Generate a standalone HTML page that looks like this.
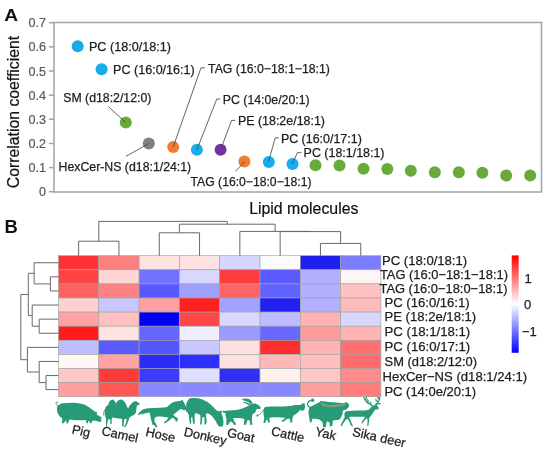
<!DOCTYPE html><html><head><meta charset="utf-8"><style>html,body{margin:0;padding:0;background:#fff;}svg{display:block;}text{font-family:"Liberation Sans",Arial,sans-serif;} .t{stroke:#1e1e1e;stroke-width:0.25px;}</style></head><body>
<svg width="550" height="452" viewBox="0 0 550 452">
<rect x="0" y="0" width="550" height="452" fill="#fff"/>
<text transform="translate(4.3,20.8) scale(1.13,1)" font-size="17" font-weight="bold" fill="#111">A</text>
<rect x="54" y="22.5" width="487.5" height="169.5" fill="none" stroke="#a3a3a3" stroke-width="1.5"/>
<line x1="49" y1="191.75" x2="54" y2="191.75" stroke="#a3a3a3" stroke-width="1.5"/>
<text x="45.9" y="196.25" font-size="12.6" fill="#5a5a5a" stroke="#5a5a5a" stroke-width="0.2" text-anchor="end">0</text>
<line x1="49" y1="167.60" x2="54" y2="167.60" stroke="#a3a3a3" stroke-width="1.5"/>
<text x="45.9" y="172.10" font-size="12.6" fill="#5a5a5a" stroke="#5a5a5a" stroke-width="0.2" text-anchor="end">0.1</text>
<line x1="49" y1="143.45" x2="54" y2="143.45" stroke="#a3a3a3" stroke-width="1.5"/>
<text x="45.9" y="147.95" font-size="12.6" fill="#5a5a5a" stroke="#5a5a5a" stroke-width="0.2" text-anchor="end">0.2</text>
<line x1="49" y1="119.30" x2="54" y2="119.30" stroke="#a3a3a3" stroke-width="1.5"/>
<text x="45.9" y="123.80" font-size="12.6" fill="#5a5a5a" stroke="#5a5a5a" stroke-width="0.2" text-anchor="end">0.3</text>
<line x1="49" y1="95.15" x2="54" y2="95.15" stroke="#a3a3a3" stroke-width="1.5"/>
<text x="45.9" y="99.65" font-size="12.6" fill="#5a5a5a" stroke="#5a5a5a" stroke-width="0.2" text-anchor="end">0.4</text>
<line x1="49" y1="71.00" x2="54" y2="71.00" stroke="#a3a3a3" stroke-width="1.5"/>
<text x="45.9" y="75.50" font-size="12.6" fill="#5a5a5a" stroke="#5a5a5a" stroke-width="0.2" text-anchor="end">0.5</text>
<line x1="49" y1="46.85" x2="54" y2="46.85" stroke="#a3a3a3" stroke-width="1.5"/>
<text x="45.9" y="51.35" font-size="12.6" fill="#5a5a5a" stroke="#5a5a5a" stroke-width="0.2" text-anchor="end">0.6</text>
<line x1="49" y1="22.70" x2="54" y2="22.70" stroke="#a3a3a3" stroke-width="1.5"/>
<text x="45.9" y="27.20" font-size="12.6" fill="#5a5a5a" stroke="#5a5a5a" stroke-width="0.2" text-anchor="end">0.7</text>
<text transform="translate(19.3,112) rotate(-90)" font-size="15.8" fill="#111" stroke="#111" stroke-width="0.2" text-anchor="middle">Correlation coefficient</text>
<text x="249.2" y="214.2" font-size="15.85" fill="#111" stroke="#111" stroke-width="0.2">Lipid molecules</text>
<circle cx="77.7" cy="46.3" r="6" fill="#17acec"/>
<circle cx="101.6" cy="69.2" r="6" fill="#17acec"/>
<circle cx="125.8" cy="122.6" r="6" fill="#6aaa3c"/>
<circle cx="148.8" cy="143.5" r="6" fill="#7f7f7f"/>
<circle cx="173.2" cy="146.9" r="6" fill="#ef7d2f"/>
<circle cx="196.9" cy="149.7" r="6" fill="#17acec"/>
<circle cx="220.6" cy="149.8" r="6" fill="#7431a3"/>
<circle cx="244.4" cy="161.6" r="6" fill="#ef7d2f"/>
<circle cx="268.8" cy="162" r="6" fill="#17acec"/>
<circle cx="292.5" cy="164" r="6" fill="#17acec"/>
<circle cx="315.5" cy="165.3" r="6" fill="#6aaa3c"/>
<circle cx="339.5" cy="165.5" r="6" fill="#6aaa3c"/>
<circle cx="363.5" cy="168.7" r="6" fill="#6aaa3c"/>
<circle cx="387.3" cy="168.9" r="6" fill="#6aaa3c"/>
<circle cx="410.8" cy="170.8" r="6" fill="#6aaa3c"/>
<circle cx="434.8" cy="172.2" r="6" fill="#6aaa3c"/>
<circle cx="458.8" cy="172.2" r="6" fill="#6aaa3c"/>
<circle cx="482.4" cy="172.8" r="6" fill="#6aaa3c"/>
<circle cx="506.2" cy="175.5" r="6" fill="#6aaa3c"/>
<circle cx="530.2" cy="175.5" r="6" fill="#6aaa3c"/>
<path d="M108.4,106.6 L125.8,122.6" fill="none" stroke="#484848" stroke-width="0.85"/>
<path d="M125.8,156.4 L148.8,143.5" fill="none" stroke="#484848" stroke-width="0.85"/>
<path d="M173.2,146.9 L201.0,67.8 L205.0,67.8" fill="none" stroke="#484848" stroke-width="0.85"/>
<path d="M196.9,149.7 L216.8,99.0 L220.2,99.0" fill="none" stroke="#484848" stroke-width="0.85"/>
<path d="M220.6,149.8 L231.6,120.4 L235.2,120.4" fill="none" stroke="#484848" stroke-width="0.85"/>
<path d="M235.5,171.5 L244.4,161.6" fill="none" stroke="#484848" stroke-width="0.85"/>
<path d="M268.5,161.8 L275.2,137.8 L278.8,137.8" fill="none" stroke="#484848" stroke-width="0.85"/>
<path d="M292.2,164 L297.4,152.6 L301.4,152.6" fill="none" stroke="#484848" stroke-width="0.85"/>
<text x="88.95" y="50.9" font-size="12.6" fill="#1e1e1e" class="t">PC (18:0/18:1)</text>
<text x="113.1" y="73.7" font-size="12.55" fill="#1e1e1e" class="t">PC (16:0/16:1)</text>
<text x="63.2" y="101.9" font-size="12.3" fill="#1e1e1e" class="t">SM (d18:2/12:0)</text>
<text x="58.6" y="170.5" font-size="12.3" fill="#1e1e1e" class="t">HexCer-NS (d18:1/24:1)</text>
<text x="208.1" y="73" font-size="12.28" fill="#1e1e1e" class="t">TAG (16:0−18:1−18:1)</text>
<text x="222.8" y="103.9" font-size="12.3" fill="#1e1e1e" class="t">PC (14:0e/20:1)</text>
<text x="237.9" y="124.9" font-size="12.45" fill="#1e1e1e" class="t">PE (18:2e/18:1)</text>
<text x="190.6" y="186" font-size="12.18" fill="#1e1e1e" class="t">TAG (16:0−18:0−18:1)</text>
<text x="280.9" y="142.6" font-size="12.45" fill="#1e1e1e" class="t">PC (16:0/17:1)</text>
<text x="303.6" y="156.6" font-size="12.45" fill="#1e1e1e" class="t">PC (18:1/18:1)</text>
<text transform="translate(4.5,232.8) scale(1.05,1)" font-size="17.5" font-weight="bold" fill="#111">B</text>
<rect x="58.50" y="255.70" width="40.30" height="14.10" fill="#ff3333" stroke="#a0a0a0" stroke-width="0.6"/>
<rect x="98.80" y="255.70" width="40.30" height="14.10" fill="#ff8080" stroke="#a0a0a0" stroke-width="0.6"/>
<rect x="139.10" y="255.70" width="40.30" height="14.10" fill="#ffe2e2" stroke="#a0a0a0" stroke-width="0.6"/>
<rect x="179.40" y="255.70" width="40.30" height="14.10" fill="#ffe2e2" stroke="#a0a0a0" stroke-width="0.6"/>
<rect x="219.70" y="255.70" width="40.30" height="14.10" fill="#d6d6ff" stroke="#a0a0a0" stroke-width="0.6"/>
<rect x="260.00" y="255.70" width="40.30" height="14.10" fill="#fafaff" stroke="#a0a0a0" stroke-width="0.6"/>
<rect x="300.30" y="255.70" width="40.30" height="14.10" fill="#2020ee" stroke="#a0a0a0" stroke-width="0.6"/>
<rect x="340.60" y="255.70" width="40.30" height="14.10" fill="#7c7cff" stroke="#a0a0a0" stroke-width="0.6"/>
<rect x="58.50" y="269.80" width="40.30" height="14.10" fill="#ff4242" stroke="#a0a0a0" stroke-width="0.6"/>
<rect x="98.80" y="269.80" width="40.30" height="14.10" fill="#ffd6d6" stroke="#a0a0a0" stroke-width="0.6"/>
<rect x="139.10" y="269.80" width="40.30" height="14.10" fill="#7272ff" stroke="#a0a0a0" stroke-width="0.6"/>
<rect x="179.40" y="269.80" width="40.30" height="14.10" fill="#d8d8ff" stroke="#a0a0a0" stroke-width="0.6"/>
<rect x="219.70" y="269.80" width="40.30" height="14.10" fill="#ff3c3c" stroke="#a0a0a0" stroke-width="0.6"/>
<rect x="260.00" y="269.80" width="40.30" height="14.10" fill="#5a5aff" stroke="#a0a0a0" stroke-width="0.6"/>
<rect x="300.30" y="269.80" width="40.30" height="14.10" fill="#b0b0ff" stroke="#a0a0a0" stroke-width="0.6"/>
<rect x="340.60" y="269.80" width="40.30" height="14.10" fill="#fff5f4" stroke="#a0a0a0" stroke-width="0.6"/>
<rect x="58.50" y="283.90" width="40.30" height="14.10" fill="#ff6060" stroke="#a0a0a0" stroke-width="0.6"/>
<rect x="98.80" y="283.90" width="40.30" height="14.10" fill="#ff8282" stroke="#a0a0a0" stroke-width="0.6"/>
<rect x="139.10" y="283.90" width="40.30" height="14.10" fill="#5858ff" stroke="#a0a0a0" stroke-width="0.6"/>
<rect x="179.40" y="283.90" width="40.30" height="14.10" fill="#a0a0ff" stroke="#a0a0a0" stroke-width="0.6"/>
<rect x="219.70" y="283.90" width="40.30" height="14.10" fill="#ff6464" stroke="#a0a0a0" stroke-width="0.6"/>
<rect x="260.00" y="283.90" width="40.30" height="14.10" fill="#6262ff" stroke="#a0a0a0" stroke-width="0.6"/>
<rect x="300.30" y="283.90" width="40.30" height="14.10" fill="#b0b0ff" stroke="#a0a0a0" stroke-width="0.6"/>
<rect x="340.60" y="283.90" width="40.30" height="14.10" fill="#ffc2c2" stroke="#a0a0a0" stroke-width="0.6"/>
<rect x="58.50" y="298.00" width="40.30" height="14.10" fill="#ffd0d0" stroke="#a0a0a0" stroke-width="0.6"/>
<rect x="98.80" y="298.00" width="40.30" height="14.10" fill="#c8c8ff" stroke="#a0a0a0" stroke-width="0.6"/>
<rect x="139.10" y="298.00" width="40.30" height="14.10" fill="#ffa0a0" stroke="#a0a0a0" stroke-width="0.6"/>
<rect x="179.40" y="298.00" width="40.30" height="14.10" fill="#ff2020" stroke="#a0a0a0" stroke-width="0.6"/>
<rect x="219.70" y="298.00" width="40.30" height="14.10" fill="#a2a2ff" stroke="#a0a0a0" stroke-width="0.6"/>
<rect x="260.00" y="298.00" width="40.30" height="14.10" fill="#2020f0" stroke="#a0a0a0" stroke-width="0.6"/>
<rect x="300.30" y="298.00" width="40.30" height="14.10" fill="#b0b0ff" stroke="#a0a0a0" stroke-width="0.6"/>
<rect x="340.60" y="298.00" width="40.30" height="14.10" fill="#ffbaba" stroke="#a0a0a0" stroke-width="0.6"/>
<rect x="58.50" y="312.10" width="40.30" height="14.10" fill="#ffa2a2" stroke="#a0a0a0" stroke-width="0.6"/>
<rect x="98.80" y="312.10" width="40.30" height="14.10" fill="#ffc0c0" stroke="#a0a0a0" stroke-width="0.6"/>
<rect x="139.10" y="312.10" width="40.30" height="14.10" fill="#0000f8" stroke="#a0a0a0" stroke-width="0.6"/>
<rect x="179.40" y="312.10" width="40.30" height="14.10" fill="#ff4646" stroke="#a0a0a0" stroke-width="0.6"/>
<rect x="219.70" y="312.10" width="40.30" height="14.10" fill="#d8d8ff" stroke="#a0a0a0" stroke-width="0.6"/>
<rect x="260.00" y="312.10" width="40.30" height="14.10" fill="#bcbcff" stroke="#a0a0a0" stroke-width="0.6"/>
<rect x="300.30" y="312.10" width="40.30" height="14.10" fill="#ffb2b2" stroke="#a0a0a0" stroke-width="0.6"/>
<rect x="340.60" y="312.10" width="40.30" height="14.10" fill="#d8d8ff" stroke="#a0a0a0" stroke-width="0.6"/>
<rect x="58.50" y="326.20" width="40.30" height="14.10" fill="#ff1c1c" stroke="#a0a0a0" stroke-width="0.6"/>
<rect x="98.80" y="326.20" width="40.30" height="14.10" fill="#ffe2e2" stroke="#a0a0a0" stroke-width="0.6"/>
<rect x="139.10" y="326.20" width="40.30" height="14.10" fill="#6666ff" stroke="#a0a0a0" stroke-width="0.6"/>
<rect x="179.40" y="326.20" width="40.30" height="14.10" fill="#eeeeff" stroke="#a0a0a0" stroke-width="0.6"/>
<rect x="219.70" y="326.20" width="40.30" height="14.10" fill="#9a9aff" stroke="#a0a0a0" stroke-width="0.6"/>
<rect x="260.00" y="326.20" width="40.30" height="14.10" fill="#6868ff" stroke="#a0a0a0" stroke-width="0.6"/>
<rect x="300.30" y="326.20" width="40.30" height="14.10" fill="#ff9a9a" stroke="#a0a0a0" stroke-width="0.6"/>
<rect x="340.60" y="326.20" width="40.30" height="14.10" fill="#ffb4b4" stroke="#a0a0a0" stroke-width="0.6"/>
<rect x="58.50" y="340.30" width="40.30" height="14.10" fill="#bebeff" stroke="#a0a0a0" stroke-width="0.6"/>
<rect x="98.80" y="340.30" width="40.30" height="14.10" fill="#5a5aff" stroke="#a0a0a0" stroke-width="0.6"/>
<rect x="139.10" y="340.30" width="40.30" height="14.10" fill="#5656ff" stroke="#a0a0a0" stroke-width="0.6"/>
<rect x="179.40" y="340.30" width="40.30" height="14.10" fill="#c8c8ff" stroke="#a0a0a0" stroke-width="0.6"/>
<rect x="219.70" y="340.30" width="40.30" height="14.10" fill="#ffe0e0" stroke="#a0a0a0" stroke-width="0.6"/>
<rect x="260.00" y="340.30" width="40.30" height="14.10" fill="#ff2e2e" stroke="#a0a0a0" stroke-width="0.6"/>
<rect x="300.30" y="340.30" width="40.30" height="14.10" fill="#ffb2b2" stroke="#a0a0a0" stroke-width="0.6"/>
<rect x="340.60" y="340.30" width="40.30" height="14.10" fill="#ff7070" stroke="#a0a0a0" stroke-width="0.6"/>
<rect x="58.50" y="354.40" width="40.30" height="14.10" fill="#fff8f8" stroke="#a0a0a0" stroke-width="0.6"/>
<rect x="98.80" y="354.40" width="40.30" height="14.10" fill="#ffa2a2" stroke="#a0a0a0" stroke-width="0.6"/>
<rect x="139.10" y="354.40" width="40.30" height="14.10" fill="#2c2cfa" stroke="#a0a0a0" stroke-width="0.6"/>
<rect x="179.40" y="354.40" width="40.30" height="14.10" fill="#2e2eff" stroke="#a0a0a0" stroke-width="0.6"/>
<rect x="219.70" y="354.40" width="40.30" height="14.10" fill="#ffe0e0" stroke="#a0a0a0" stroke-width="0.6"/>
<rect x="260.00" y="354.40" width="40.30" height="14.10" fill="#ffb8b8" stroke="#a0a0a0" stroke-width="0.6"/>
<rect x="300.30" y="354.40" width="40.30" height="14.10" fill="#ffbebe" stroke="#a0a0a0" stroke-width="0.6"/>
<rect x="340.60" y="354.40" width="40.30" height="14.10" fill="#ff6a6a" stroke="#a0a0a0" stroke-width="0.6"/>
<rect x="58.50" y="368.50" width="40.30" height="14.10" fill="#ffc8c8" stroke="#a0a0a0" stroke-width="0.6"/>
<rect x="98.80" y="368.50" width="40.30" height="14.10" fill="#ff3a3a" stroke="#a0a0a0" stroke-width="0.6"/>
<rect x="139.10" y="368.50" width="40.30" height="14.10" fill="#3c3cff" stroke="#a0a0a0" stroke-width="0.6"/>
<rect x="179.40" y="368.50" width="40.30" height="14.10" fill="#dedeff" stroke="#a0a0a0" stroke-width="0.6"/>
<rect x="219.70" y="368.50" width="40.30" height="14.10" fill="#3030f4" stroke="#a0a0a0" stroke-width="0.6"/>
<rect x="260.00" y="368.50" width="40.30" height="14.10" fill="#fff0f0" stroke="#a0a0a0" stroke-width="0.6"/>
<rect x="300.30" y="368.50" width="40.30" height="14.10" fill="#ffc6c6" stroke="#a0a0a0" stroke-width="0.6"/>
<rect x="340.60" y="368.50" width="40.30" height="14.10" fill="#ff8a8a" stroke="#a0a0a0" stroke-width="0.6"/>
<rect x="58.50" y="382.60" width="40.30" height="14.10" fill="#ff9e9e" stroke="#a0a0a0" stroke-width="0.6"/>
<rect x="98.80" y="382.60" width="40.30" height="14.10" fill="#ff5656" stroke="#a0a0a0" stroke-width="0.6"/>
<rect x="139.10" y="382.60" width="40.30" height="14.10" fill="#8888ff" stroke="#a0a0a0" stroke-width="0.6"/>
<rect x="179.40" y="382.60" width="40.30" height="14.10" fill="#8888ff" stroke="#a0a0a0" stroke-width="0.6"/>
<rect x="219.70" y="382.60" width="40.30" height="14.10" fill="#8888ff" stroke="#a0a0a0" stroke-width="0.6"/>
<rect x="260.00" y="382.60" width="40.30" height="14.10" fill="#8888ff" stroke="#a0a0a0" stroke-width="0.6"/>
<rect x="300.30" y="382.60" width="40.30" height="14.10" fill="#ff9e9e" stroke="#a0a0a0" stroke-width="0.6"/>
<rect x="340.60" y="382.60" width="40.30" height="14.10" fill="#ff7c7c" stroke="#a0a0a0" stroke-width="0.6"/>
<line x1="78.65" y1="255.7" x2="78.65" y2="241.2" stroke="#686868" stroke-width="1"/>
<line x1="118.94999999999999" y1="255.7" x2="118.94999999999999" y2="241.2" stroke="#686868" stroke-width="1"/>
<line x1="78.65" y1="241.2" x2="118.94999999999999" y2="241.2" stroke="#686868" stroke-width="1"/>
<line x1="159.25" y1="255.7" x2="159.25" y2="232.8" stroke="#686868" stroke-width="1"/>
<line x1="199.54999999999998" y1="255.7" x2="199.54999999999998" y2="232.8" stroke="#686868" stroke-width="1"/>
<line x1="159.25" y1="232.8" x2="199.54999999999998" y2="232.8" stroke="#686868" stroke-width="1"/>
<line x1="320.45" y1="255.7" x2="320.45" y2="243.4" stroke="#686868" stroke-width="1"/>
<line x1="360.75" y1="255.7" x2="360.75" y2="243.4" stroke="#686868" stroke-width="1"/>
<line x1="320.45" y1="243.4" x2="360.75" y2="243.4" stroke="#686868" stroke-width="1"/>
<line x1="280.15" y1="255.7" x2="280.15" y2="231.6" stroke="#686868" stroke-width="1"/>
<line x1="340.6" y1="243.4" x2="340.6" y2="231.6" stroke="#686868" stroke-width="1"/>
<line x1="280.15" y1="231.6" x2="340.6" y2="231.6" stroke="#686868" stroke-width="1"/>
<line x1="239.85" y1="255.7" x2="239.85" y2="231.4" stroke="#686868" stroke-width="1"/>
<line x1="310.375" y1="231.6" x2="310.375" y2="231.4" stroke="#686868" stroke-width="1"/>
<line x1="239.85" y1="231.4" x2="310.375" y2="231.4" stroke="#686868" stroke-width="1"/>
<line x1="179.39999999999998" y1="232.8" x2="179.39999999999998" y2="224.2" stroke="#686868" stroke-width="1"/>
<line x1="275.1125" y1="231.4" x2="275.1125" y2="224.2" stroke="#686868" stroke-width="1"/>
<line x1="179.39999999999998" y1="224.2" x2="275.1125" y2="224.2" stroke="#686868" stroke-width="1"/>
<line x1="98.8" y1="241.2" x2="98.8" y2="221.4" stroke="#686868" stroke-width="1"/>
<line x1="227.25625" y1="224.2" x2="227.25625" y2="221.4" stroke="#686868" stroke-width="1"/>
<line x1="98.8" y1="221.4" x2="227.25625" y2="221.4" stroke="#686868" stroke-width="1"/>
<line x1="58.5" y1="276.84999999999997" x2="50.4" y2="276.84999999999997" stroke="#686868" stroke-width="1"/>
<line x1="58.5" y1="290.95" x2="50.4" y2="290.95" stroke="#686868" stroke-width="1"/>
<line x1="50.4" y1="276.84999999999997" x2="50.4" y2="290.95" stroke="#686868" stroke-width="1"/>
<line x1="58.5" y1="262.75" x2="34.1" y2="262.75" stroke="#686868" stroke-width="1"/>
<line x1="50.4" y1="283.9" x2="34.1" y2="283.9" stroke="#686868" stroke-width="1"/>
<line x1="34.1" y1="262.75" x2="34.1" y2="283.9" stroke="#686868" stroke-width="1"/>
<line x1="58.5" y1="319.15" x2="39.2" y2="319.15" stroke="#686868" stroke-width="1"/>
<line x1="58.5" y1="333.25" x2="39.2" y2="333.25" stroke="#686868" stroke-width="1"/>
<line x1="39.2" y1="319.15" x2="39.2" y2="333.25" stroke="#686868" stroke-width="1"/>
<line x1="58.5" y1="305.05" x2="32.2" y2="305.05" stroke="#686868" stroke-width="1"/>
<line x1="39.2" y1="326.2" x2="32.2" y2="326.2" stroke="#686868" stroke-width="1"/>
<line x1="32.2" y1="305.05" x2="32.2" y2="326.2" stroke="#686868" stroke-width="1"/>
<line x1="34.1" y1="273.325" x2="28.3" y2="273.325" stroke="#686868" stroke-width="1"/>
<line x1="32.2" y1="315.625" x2="28.3" y2="315.625" stroke="#686868" stroke-width="1"/>
<line x1="28.3" y1="273.325" x2="28.3" y2="315.625" stroke="#686868" stroke-width="1"/>
<line x1="58.5" y1="375.54999999999995" x2="46" y2="375.54999999999995" stroke="#686868" stroke-width="1"/>
<line x1="58.5" y1="389.65" x2="46" y2="389.65" stroke="#686868" stroke-width="1"/>
<line x1="46" y1="375.54999999999995" x2="46" y2="389.65" stroke="#686868" stroke-width="1"/>
<line x1="58.5" y1="361.45" x2="39.2" y2="361.45" stroke="#686868" stroke-width="1"/>
<line x1="46" y1="382.59999999999997" x2="39.2" y2="382.59999999999997" stroke="#686868" stroke-width="1"/>
<line x1="39.2" y1="361.45" x2="39.2" y2="382.59999999999997" stroke="#686868" stroke-width="1"/>
<line x1="58.5" y1="347.34999999999997" x2="27.4" y2="347.34999999999997" stroke="#686868" stroke-width="1"/>
<line x1="39.2" y1="372.025" x2="27.4" y2="372.025" stroke="#686868" stroke-width="1"/>
<line x1="27.4" y1="347.34999999999997" x2="27.4" y2="372.025" stroke="#686868" stroke-width="1"/>
<line x1="28.3" y1="294.475" x2="20.8" y2="294.475" stroke="#686868" stroke-width="1"/>
<line x1="27.4" y1="359.6875" x2="20.8" y2="359.6875" stroke="#686868" stroke-width="1"/>
<line x1="20.8" y1="294.475" x2="20.8" y2="359.6875" stroke="#686868" stroke-width="1"/>
<text x="382.0" y="264.7" font-size="13.1" fill="#1e1e1e" class="t">PC (18:0/18:1)</text>
<text x="379.9" y="278.5" font-size="12.9" fill="#1e1e1e" class="t">TAG (16:0−18:1−18:1)</text>
<text x="379.5" y="292.6" font-size="12.9" fill="#1e1e1e" class="t">TAG (16:0−18:0−18:1)</text>
<text x="384.5" y="307.4" font-size="13.1" fill="#1e1e1e" class="t">PC (16:0/16:1)</text>
<text x="384.5" y="321.2" font-size="13.1" fill="#1e1e1e" class="t">PE (18:2e/18:1)</text>
<text x="384.5" y="335.8" font-size="13.2" fill="#1e1e1e" class="t">PC (18:1/18:1)</text>
<text x="384.5" y="351.0" font-size="13.2" fill="#1e1e1e" class="t">PC (16:0/17:1)</text>
<text x="384.6" y="365.7" font-size="12.9" fill="#1e1e1e" class="t">SM (d18:2/12:0)</text>
<text x="382.6" y="380.7" font-size="13.1" fill="#1e1e1e" class="t">HexCer−NS (d18:1/24:1)</text>
<text x="384.4" y="395.6" font-size="13.0" fill="#1e1e1e" class="t">PC (14:0e/20:1)</text>
<defs><linearGradient id="lg" x1="0" y1="0" x2="0" y2="1"><stop offset="0" stop-color="#ff0000"/><stop offset="0.5" stop-color="#ffffff"/><stop offset="1" stop-color="#0000ff"/></linearGradient></defs>
<rect x="511.7" y="255.4" width="7" height="97.4" fill="url(#lg)"/>
<text x="524.5" y="283.15" font-size="13" fill="#1e1e1e" class="t">1</text>
<text x="524.1" y="309.15" font-size="13" fill="#1e1e1e" class="t">0</text>
<text x="521.9" y="336.25" font-size="13" fill="#1e1e1e" class="t">−1</text>
<text transform="translate(71.25,433.3) rotate(12.5)" font-size="12.8" fill="#1e1e1e" class="t">Pig</text>
<text transform="translate(101,434.65) rotate(12.5)" font-size="12.8" fill="#1e1e1e" class="t">Camel</text>
<text transform="translate(145,435.85) rotate(12.5)" font-size="12.8" fill="#1e1e1e" class="t">Hose</text>
<text transform="translate(183.2,435.75) rotate(12.5)" font-size="12.8" fill="#1e1e1e" class="t">Donkey</text>
<text transform="translate(226.45,436.45) rotate(12.5)" font-size="12.8" fill="#1e1e1e" class="t">Goat</text>
<text transform="translate(270.55,435.05) rotate(12.5)" font-size="12.8" fill="#1e1e1e" class="t">Cattle</text>
<text transform="translate(314.45,435.6) rotate(12.5)" font-size="12.8" fill="#1e1e1e" class="t">Yak</text>
<text transform="translate(351.75,435.75) rotate(12.5)" font-size="12.8" fill="#1e1e1e" class="t">Sika deer</text>
<g fill="#279a78" stroke="none">
<path d="M57 410 C56.5 406,59 404,63 403.3 C70 402.5,78 402.5,84 404.5 C88 406,91 408.5,94 411 L97.5 412.8 L96.5 414.5 C98.5 415.5,100.5 416.5,101.5 417.5 L101 421.8 L99.5 422 C97.5 421,95.5 420.5,93.5 420.5 L92 421 L91.5 423.2 L90 423.2 L89.3 421 L88.3 421 L88 423.2 L86.5 423.2 L85.8 420 C80 420.5,74 420.5,69.5 419.5 L68 423.2 L66.3 423.2 L66.3 420 L63.5 423.2 L61.8 423.2 L62.3 418.5 C59.5 416.5,57.3 414,57 410 Z"/>
<path d="M58.2 405.8 C56.3 405,55.2 403.3,56.3 402.2 C57.3 401.5,58.3 402.4,57.6 403.2" fill="none" stroke="#279a78" stroke-width="0.8"/>
<path d="M105 409 C105.5 407,106.8 405.5,108.2 405 C109 401.5,110.5 399.7,112.3 399.6 C114.3 399.7,115.5 401.8,116 403.8 C116.7 401.5,118.5 399.7,120.9 399.6 C123.5 399.8,125.5 402.5,126.5 405.5 C127 406.8,127.5 407.8,128.2 408.2 C129.3 406,130.5 404.3,131.9 403.2 C133 402,134.2 401.4,135.4 401.3 C137 401.6,138.5 402.6,139.8 404 L138.8 405 L137 405.6 C136.5 407.5,136.2 410,136 412.4 C135 414,134 415,132.7 415.6 C131.5 416.3,130.3 417,129.5 417.5 L128.5 420.5 L127.3 423.8 L125.5 426.8 L124.2 427.3 L124.2 426.3 L125.8 423.5 L126.6 420 L126.3 418.8 L124.5 419 L123.7 423 L123.6 426.5 L122.2 426.6 L122.1 423 L122.1 419 C119 418.5,115.5 418,112.3 417.5 L111.7 419 L111.6 422.5 L112 423.8 L110.6 424 L110.2 422.5 L110.3 419.5 L108.2 419.3 L107.4 422.5 L107 425.5 L107.6 426.4 L106 426.4 L105.9 422.5 L106.1 418.8 C105.5 417.5,105.2 416,105 414 C104.8 412.3,104.8 410.6,105 409 Z"/>
<path d="M105.2 409.5 C104.2 410.5,103.7 412,103.8 415.5" fill="none" stroke="#279a78" stroke-width="1"/>
<path d="M149.9 408.2 C147 408.3,144.5 408.6,142.5 409.8 C140.5 411,138.8 412.8,137.6 415.2 C139.5 414.6,141.5 413.8,143 413.2 L141.2 415 C144 413.8,147 412.8,150 412.6 Z"/>
<path d="M149.6 408.2 C153 407.9,157 407.7,160 407.7 C163 407.6,165.5 407.4,167 407.1 C168 406,168.8 405.2,169.8 404.5 C171.3 403.2,173 402.2,174.8 401.8 C176.5 401.3,178.5 401,180.3 400.9 L182.6 399.8 L183.2 401.5 C184 402.3,184.5 403,184.8 403.9 C185.5 405.6,186.1 407.3,186.6 408.8 L185.8 410 L184.1 410.3 C182.8 409.7,181.7 409.2,180.8 409.1 C179.6 409.6,178.4 410.6,177.3 411.5 C175.8 412.7,174.4 413.8,173.2 414.9 L174.9 416.6 L177.9 418.3 L177.4 421 L176.2 422 L175.5 421.1 L175.7 420.2 L173.8 418.5 L172.2 417.8 L169.6 420.2 L166.2 422.4 L164.6 423.5 L163.9 422.2 L166.9 420 L168.6 417.7 C165.5 416.8,161 416.6,157.5 416.5 L155 417.6 L154.3 420.8 L156.7 425.3 L157.6 427.1 L156 427.5 L153.2 423.7 L153.9 424.5 L152.5 425 L151.3 420.3 L150.2 415 C149.5 413,149.3 410.5,149.6 408.2 Z"/>
<path d="M186.6 403.8 C186.9 401.3,188.2 399,190.3 398.2 C192 397.9,193.8 397.9,195.4 398.1 C198 398.4,200.5 398.9,202.4 399.5 C204.3 400.2,206 401,207.5 402 C209.3 403.3,211.1 404.8,212.7 406.4 C214.2 407.9,215.7 409.4,217 410.7 L219.6 411.3 L222.2 410.6 L221.4 413.3 C222.3 414.8,222.8 416.6,223.1 418.5 C223.4 420.5,223.5 422.5,223.4 424.5 L222.2 426.7 L218.8 426.2 C217.7 424.9,216.8 423.4,216.2 421.9 C214.9 419.7,213.5 417.6,211.9 415.9 C210.5 414.6,209 413.8,207.5 413.3 L205.9 414.1 L206.7 421.9 L205.8 424.5 L204.4 424.5 L204.6 421 L204.1 416.7 L202.4 417.6 L201.6 424.5 L200.1 424.5 L200.5 419 L200.3 415 C198.7 414,197 413.5,195.4 413.3 L194.6 415 L194.8 423.6 L193.2 424 L192.6 420 L192.3 416.7 L191.1 417.6 L191.2 423.6 L189.8 424 L189.2 419 L188.9 415 C187.6 413.3,187 411.5,186.8 409.8 C186.5 407.8,186.4 405.8,186.6 403.8 Z"/>
<path d="M187.3 403 C186.4 406,186.2 409,186.6 412" fill="none" stroke="#279a78" stroke-width="1"/>
<path d="M225.7 410.7 C227 410.5,228.5 410.4,229.8 410.4 C232 410.2,234.3 410.1,236.4 409.9 C238.6 409.5,240.8 409,242.9 408.3 C244.6 407.7,246.3 406.9,247.8 406.1 C249 405.4,250.1 404.8,251.1 404.2 C252.5 403.7,253.9 403.4,255.2 403.4 C256.5 403.8,257.6 404.3,258.5 405 C259.5 405.9,260.4 406.9,260.9 407.8 L260.1 409.1 L256.8 409.1 L255.8 410.8 L255.2 412.4 C254.3 413,253.5 413.5,252.7 414 C252.2 415,251.9 416.2,251.9 417.3 L251.9 422.2 L252.7 424.6 L250.3 425.1 L249.9 422.5 L249.5 420.5 L247.8 419.7 L246.6 422.5 L246.2 424.6 L243.7 425.1 L244.2 421.5 L244.5 418.9 C242.3 418.4,240.2 418.1,238 418.1 C236.3 418.1,234.7 418.1,233.1 418.1 L233.9 420.5 L235.5 423 L236.4 424.6 L233.9 425.1 L232.5 422.5 L231.5 421.4 L229.8 422.2 L228.8 423.8 L228.2 425.1 L226.2 424.8 L226.4 421.5 L226.5 418.9 C225.9 417.8,225.7 416.7,225.7 415.6 C225.5 414,225.5 412.3,225.7 410.7 Z"/>
<path d="M252.7 403.6 C251.9 401.5,250.9 400.1,249.5 399.3 C248 398.5,246.3 398.3,244.5 398.5 C243.3 398.7,242.2 399.1,241.3 399.6 C242.4 399.9,243.5 400.3,244.5 400.9 C246 401.3,247.4 401.7,248.6 402.2 C249.5 402.8,250.4 403.5,251.1 404.4 Z"/>
<path d="M250.5 404.6 C249.6 403.7,248.6 403,247.4 402.7 C245.8 402.3,244 402.2,242.1 402.5 C243.8 402.9,245.4 403.4,246.8 404 C247.8 404.4,248.6 405,249.3 405.5 Z"/>
<path d="M226 411.2 L223.2 410.6 L222.6 412.6 L225.8 413.2 Z"/>
<path d="M263.9 409.1 C264.2 408.2,264.6 407.6,265 407.1 C266.8 406.8,268.8 406.6,270.7 406.6 C274.5 406.6,278.4 406.6,282.2 406.6 C285 406.5,287.7 406.3,290.4 406.1 C292 405.7,293.7 405.3,295.3 405 C297 404.9,298.6 404.9,300.2 405 L302.7 403.4 L305.1 402.9 L304.2 404.3 L305.3 404.9 L305.1 405.8 C305 407.2,304.8 408.6,304.3 409.9 L302.7 410.7 L300.2 409.9 C299.2 411.1,298.1 412.2,296.9 413.2 C295.9 414.1,294.8 414.9,293.6 415.6 L292.8 417.3 L292 420.5 L292.8 422.2 L290.4 422.7 L290.1 420.5 L289.6 418.9 L287.9 418.6 L285.8 420.1 L283.8 421.4 L282.2 422.2 L281.9 420.5 L283.8 419.2 L285.5 418.1 C283.3 417.7,281.1 417.3,278.9 417.3 C276.7 417.3,274.6 417.3,272.4 417.3 L269.1 418.1 L269.7 420.3 L269.9 422.2 L268.3 422.7 L267.6 420.8 L266.6 418.9 L265.8 421.4 L265 423 L263.4 422.7 L263.9 420 L264.2 417.3 C263.8 415.7,263.5 414,263.4 412.4 C263.4 411.3,263.6 410.2,263.9 409.1 Z"/>
<path d="M264 409.3 C263.2 410.6,262.4 411.6,261.7 412.4 C260.7 413.6,259.6 414.6,258.4 415.3" fill="none" stroke="#279a78" stroke-width="0.9"/>
<circle cx="257.4" cy="415.6" r="1.1"/>
<path d="M309.4 407.3 C310.2 406.6,311.1 406.2,312.1 405.9 C314.6 404.6,317 403.3,319.4 402.3 L320.3 400.9 C322.1 401,323.9 401.2,325.7 401.4 C328.1 401.7,330.6 402,333 402.3 C335.1 402.4,337.3 402.5,339.4 402.7 C340.6 402.9,341.8 403,343 403.2 L345.7 402.3 C346.3 402.4,346.9 402.5,347.5 402.7 C348.2 403.1,348.7 403.6,348.9 404.1 C349.1 405.2,348.9 406.3,348.5 407.3 C347.8 408.1,347 408.9,346.2 409.5 L343 410.5 C342.8 412,342.5 413.5,342.1 415 C341.6 416.3,341 417.5,340.3 418.6 C339.7 419.1,339.1 419.6,338.5 420 L336.6 420 L333 420.5 L332.6 423.5 L332.1 425.9 L329.8 426.4 L329.6 424.5 L329.4 422.3 L327.1 421.4 L326.6 422.3 L326.2 425 L325.7 427.3 L323 427.3 L322.8 425 L322.5 422.3 C321.5 421.3,320.5 420.4,319.4 419.5 C317.6 419.2,315.7 418.9,313.9 418.6 L312.1 419.1 L311.8 420.8 L311.6 422.3 L309.8 422.3 L309.6 420.5 L309.4 418.6 C309 416.8,308.7 415,308.5 413.2 C308.5 412,308.7 410.7,308.9 409.5 C309 408.7,309.2 408,309.4 407.3 Z"/>
<path d="M309.6 407.4 C308.7 406.9,308 406,307.6 405 C307.4 403.9,307.7 402.7,308.5 401.8 C309.1 401.1,309.9 400.7,310.7 400.5" fill="none" stroke="#279a78" stroke-width="1.3"/>
<circle cx="312.6" cy="400.2" r="1.7"/>
<path d="M344.8 412.2 C345.5 411.6,346.3 411.4,347.1 411.3 C350.1 410.9,353.2 410.6,356.2 410.4 C359.2 410.4,362.3 410.4,365.3 410.4 C366.5 410.1,367.7 409.8,368.9 409.5 C369.9 408.6,370.8 407.5,371.6 406.4 L373.5 405.6 L375.3 405.4 L376.6 404.3 L377.2 405.7 C377.9 406.4,378.5 407.2,378.9 408.1 L378.3 409.2 L376.5 409.4 L375.3 409.6 C374.3 411.2,373.1 413.1,371.6 414.9 L370.3 416.4 L369.1 418 L369.2 421.3 L368.6 424 L368.5 425.8 L367.1 425.8 L367.4 423.5 L367.6 421 L367.3 418.6 L366.2 418.5 L364.3 420.8 L362.9 422.4 L362.7 423.5 L361.5 423.2 L362 421.5 L364.2 418.6 L364.9 416.8 C361 416.7,357 416.7,353 416.7 C351.6 416.7,350.2 416.7,348.9 416.9 L350.2 419.5 L351.8 423.5 L352.9 425.6 L352.4 426.6 L350.8 425.3 L349.4 421.8 L347.6 418.8 L346.2 419.5 L343.8 422.5 L342.2 425.2 L341.8 426.3 L340.6 425.9 L341.2 423.8 L343.5 419.6 L344.7 417.2 C344.3 415.6,344.3 413.8,344.8 412.2 Z"/>
</g>
<g fill="none" stroke="#279a78" stroke-width="1.35" stroke-linecap="round">
<path d="M372.5 405.8 L370.2 404.2 L368 403.1 L366.5 401.8 L365.3 400.4 L364.5 399 L363.9 397.6 M368 403.1 L368.1 401.3 L367.6 399.8 M365.3 400.4 L366.2 398.6 L366.5 397 M370.2 404.2 L370.8 402.3"/>
<path d="M374.8 405.2 L376.2 404.2 L377.3 403.2 L378 402.2 L378.8 400.8 L379.4 399.5 L379.8 397.6 M378 402.2 L376.7 400.9 L375.8 399.8 M379.4 399.5 L378.1 398.2 L377.6 397.1 M376.2 404.2 L380.3 403.6"/>
</g>
<path d="M319.8 400.5 C320.4 401,320.9 401.6,321.2 402.3 C323 403.2,324.8 404,326.6 404.5 C329 404.9,331.5 405.1,333.9 405 C336.4 404.8,338.8 404.5,341.2 404.1 C342.8 403.6,344.3 403.1,345.7 402.7 L345.9 404.5 C344.7 405.1,343.4 405.6,342.1 405.9 C339.9 406.4,337.7 406.7,335.5 406.9 C333.8 407.2,332 407.4,330.3 407.3 C327.8 406.9,325.3 406.4,323 405.9 C321.7 405,320.8 403.6,320.2 402.2 Z" fill="#83a06e"/>
</svg></body></html>
